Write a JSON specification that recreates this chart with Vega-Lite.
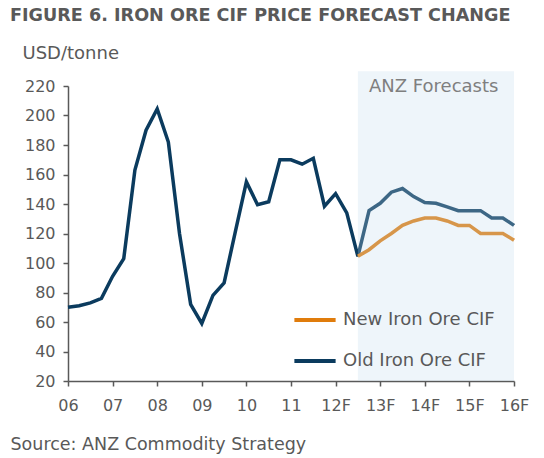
{
  "$schema": "https://vega.github.io/schema/vega-lite/v6.json",
  "autosize": "none",
  "width": 446,
  "height": 295,
  "padding": {"left": 68, "top": 86, "right": 30, "bottom": 77},
  "background": "white",
  "config": {
    "view": {"stroke": null},
    "font": "DejaVu Sans",
    "axis": {
      "labelOverlap": false,
      "labelFlush": false,
      "grid": false,
      "domainColor": "#595959",
      "domainWidth": 1.5,
      "tickColor": "#595959",
      "tickWidth": 1.5,
      "tickSize": 5,
      "labelFont": "DejaVu Sans",
      "labelFontSize": 16,
      "labelColor": "#595959",
      "titleFont": "DejaVu Sans",
      "titleFontWeight": "normal",
      "titleColor": "#595959",
      "zindex": 1
    }
  },
  "title": {
    "text": "FIGURE 6. IRON ORE CIF PRICE FORECAST CHANGE",
    "anchor": "start",
    "frame": "group",
    "font": "DejaVu Sans",
    "fontSize": 17.6,
    "fontWeight": "bold",
    "color": "#595959",
    "dx": -58,
    "offset": 19
  },
  "datasets": {
    "prices": [
      {"t": 2006.0, "price": 70, "series": "Old Iron Ore CIF"},
      {"t": 2006.25, "price": 71, "series": "Old Iron Ore CIF"},
      {"t": 2006.5, "price": 73, "series": "Old Iron Ore CIF"},
      {"t": 2006.75, "price": 76, "series": "Old Iron Ore CIF"},
      {"t": 2007.0, "price": 91, "series": "Old Iron Ore CIF"},
      {"t": 2007.25, "price": 103, "series": "Old Iron Ore CIF"},
      {"t": 2007.5, "price": 163, "series": "Old Iron Ore CIF"},
      {"t": 2007.75, "price": 190, "series": "Old Iron Ore CIF"},
      {"t": 2008.0, "price": 204.5, "series": "Old Iron Ore CIF"},
      {"t": 2008.25, "price": 182, "series": "Old Iron Ore CIF"},
      {"t": 2008.5, "price": 120, "series": "Old Iron Ore CIF"},
      {"t": 2008.75, "price": 72, "series": "Old Iron Ore CIF"},
      {"t": 2009.0, "price": 59, "series": "Old Iron Ore CIF"},
      {"t": 2009.25, "price": 78, "series": "Old Iron Ore CIF"},
      {"t": 2009.5, "price": 86.5, "series": "Old Iron Ore CIF"},
      {"t": 2009.75, "price": 121, "series": "Old Iron Ore CIF"},
      {"t": 2010.0, "price": 155, "series": "Old Iron Ore CIF"},
      {"t": 2010.25, "price": 139.5, "series": "Old Iron Ore CIF"},
      {"t": 2010.5, "price": 141.5, "series": "Old Iron Ore CIF"},
      {"t": 2010.75, "price": 170, "series": "Old Iron Ore CIF"},
      {"t": 2011.0, "price": 170, "series": "Old Iron Ore CIF"},
      {"t": 2011.25, "price": 167, "series": "Old Iron Ore CIF"},
      {"t": 2011.5, "price": 171, "series": "Old Iron Ore CIF"},
      {"t": 2011.75, "price": 138.5, "series": "Old Iron Ore CIF"},
      {"t": 2012.0, "price": 147, "series": "Old Iron Ore CIF"},
      {"t": 2012.25, "price": 134, "series": "Old Iron Ore CIF"},
      {"t": 2012.5, "price": 104.5, "series": "Old Iron Ore CIF"},
      {"t": 2012.75, "price": 135.5, "series": "Old Iron Ore CIF"},
      {"t": 2013.0, "price": 140.5, "series": "Old Iron Ore CIF"},
      {"t": 2013.25, "price": 148, "series": "Old Iron Ore CIF"},
      {"t": 2013.5, "price": 150.5, "series": "Old Iron Ore CIF"},
      {"t": 2013.75, "price": 145, "series": "Old Iron Ore CIF"},
      {"t": 2014.0, "price": 141, "series": "Old Iron Ore CIF"},
      {"t": 2014.25, "price": 140.5, "series": "Old Iron Ore CIF"},
      {"t": 2014.5, "price": 138, "series": "Old Iron Ore CIF"},
      {"t": 2014.75, "price": 135.5, "series": "Old Iron Ore CIF"},
      {"t": 2015.0, "price": 135.5, "series": "Old Iron Ore CIF"},
      {"t": 2015.25, "price": 135.5, "series": "Old Iron Ore CIF"},
      {"t": 2015.5, "price": 130.5, "series": "Old Iron Ore CIF"},
      {"t": 2015.75, "price": 130.5, "series": "Old Iron Ore CIF"},
      {"t": 2016.0, "price": 125.5, "series": "Old Iron Ore CIF"},
      {"t": 2012.5, "price": 104.5, "series": "New Iron Ore CIF"},
      {"t": 2012.75, "price": 109, "series": "New Iron Ore CIF"},
      {"t": 2013.0, "price": 115, "series": "New Iron Ore CIF"},
      {"t": 2013.25, "price": 120, "series": "New Iron Ore CIF"},
      {"t": 2013.5, "price": 125.5, "series": "New Iron Ore CIF"},
      {"t": 2013.75, "price": 128.5, "series": "New Iron Ore CIF"},
      {"t": 2014.0, "price": 130.5, "series": "New Iron Ore CIF"},
      {"t": 2014.25, "price": 130.5, "series": "New Iron Ore CIF"},
      {"t": 2014.5, "price": 128.5, "series": "New Iron Ore CIF"},
      {"t": 2014.75, "price": 125.5, "series": "New Iron Ore CIF"},
      {"t": 2015.0, "price": 125.5, "series": "New Iron Ore CIF"},
      {"t": 2015.25, "price": 120, "series": "New Iron Ore CIF"},
      {"t": 2015.5, "price": 120, "series": "New Iron Ore CIF"},
      {"t": 2015.75, "price": 120, "series": "New Iron Ore CIF"},
      {"t": 2016.0, "price": 115.5, "series": "New Iron Ore CIF"}
    ],
    "forecast": [
      {"t": 2012.5, "t2": 2016, "price": 20, "price2": 230, "label": "ANZ Forecasts", "mid": 2014.2, "labelAt": 215.7}
    ]
  },
  "encoding": {
    "x": {
      "type": "quantitative",
      "scale": {"domain": [2006, 2016], "nice": false, "zero": false},
      "axis": {
        "values": [2006, 2007, 2008, 2009, 2010, 2011, 2012, 2013, 2014, 2015, 2016],
        "labelExpr": "(datum.value < 2010 ? '0' : '') + (datum.value - 2000) + (datum.value >= 2012 ? 'F' : '')",
        "labelPadding": 11,
        "title": "Source: ANZ Commodity Strategy",
        "titleFontSize": 17.5,
        "titleAlign": "left",
        "titleBaseline": "alphabetic",
        "titleX": -58,
        "titleY": 68
      }
    },
    "y": {
      "type": "quantitative",
      "scale": {"domain": [20, 220], "nice": false, "zero": false},
      "axis": {
        "values": [20, 40, 60, 80, 100, 120, 140, 160, 180, 200, 220],
        "labelPadding": 8,
        "title": "USD/tonne",
        "titleFontSize": 18,
        "titleAngle": 0,
        "titleAlign": "left",
        "titleBaseline": "alphabetic",
        "titleX": -46,
        "titleY": -28
      }
    }
  },
  "layer": [
    {
      "data": {"name": "prices"},
      "mark": {"type": "line", "strokeWidth": 3.5, "strokeJoin": "miter"},
      "encoding": {
        "x": {"field": "t"},
        "y": {"field": "price"},
        "color": {
          "field": "series",
          "type": "nominal",
          "scale": {
            "domain": ["New Iron Ore CIF", "Old Iron Ore CIF"],
            "range": ["#e07c0c", "#0b3b5e"]
          },
          "legend": {
            "title": null,
            "orient": "none",
            "legendX": 224,
            "legendY": 211,
            "padding": 0,
            "symbolType": "stroke",
            "symbolSize": 1700,
            "symbolStrokeWidth": 4,
            "labelFont": "DejaVu Sans",
            "labelFontSize": 18,
            "labelColor": "#595959",
            "labelOffset": 5,
            "rowPadding": 9
          }
        }
      }
    },
    {
      "data": {"name": "forecast"},
      "mark": {"type": "rect", "color": "#c1dbed", "opacity": 0.28},
      "encoding": {
        "x": {"field": "t"},
        "x2": {"field": "t2"},
        "y": {"field": "price"},
        "y2": {"field": "price2"}
      }
    },
    {
      "data": {"name": "forecast"},
      "mark": {"type": "text", "font": "DejaVu Sans", "fontSize": 18, "color": "#7f7f7f", "align": "center", "baseline": "alphabetic"},
      "encoding": {
        "x": {"field": "mid"},
        "y": {"field": "labelAt"},
        "text": {"field": "label"}
      }
    }
  ]
}
